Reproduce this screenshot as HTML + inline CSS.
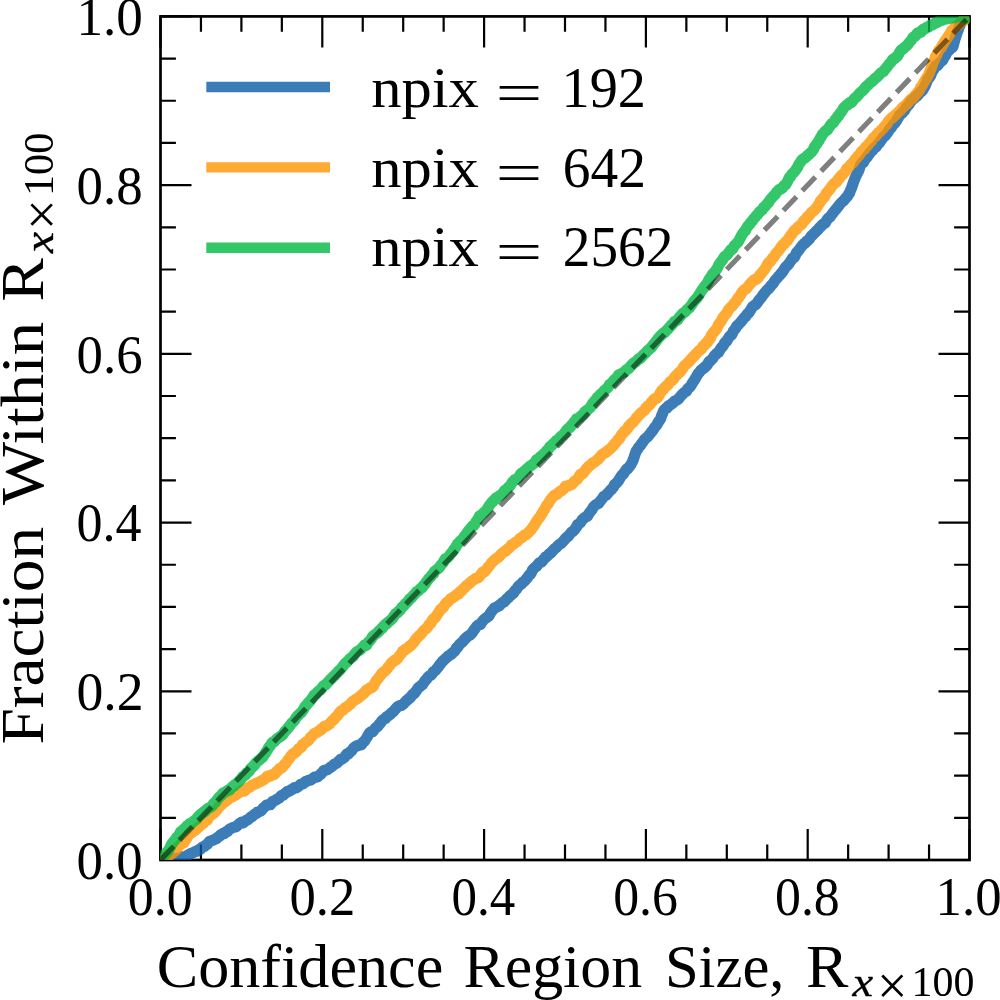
<!DOCTYPE html>
<html lang="en">
<head>
<meta charset="utf-8">
<title>Fraction Within vs Confidence Region Size</title>
<style>
html,body{margin:0;padding:0;background:#fff;}
body{width:1000px;height:1000px;overflow:hidden;}
svg{display:block;}
text{font-family:"Liberation Serif",serif;fill:#000;}
</style>
</head>
<body>
<svg width="1000" height="1000" viewBox="0 0 1000 1000">
<rect width="1000" height="1000" fill="#fff"/>
<defs><clipPath id="ax"><rect x="160.5" y="16.4" width="809.0" height="843.6"/></clipPath></defs>
<path d="M160.50 860.0 v-31.0 M160.50 16.4 v31.0 M160.5 860.00 h31.0 M969.5 860.00 h-31.0 M200.95 860.0 v-15.4 M200.95 16.4 v15.4 M160.5 817.82 h15.4 M969.5 817.82 h-15.4 M241.40 860.0 v-15.4 M241.40 16.4 v15.4 M160.5 775.64 h15.4 M969.5 775.64 h-15.4 M281.85 860.0 v-15.4 M281.85 16.4 v15.4 M160.5 733.46 h15.4 M969.5 733.46 h-15.4 M322.30 860.0 v-31.0 M322.30 16.4 v31.0 M160.5 691.28 h31.0 M969.5 691.28 h-31.0 M362.75 860.0 v-15.4 M362.75 16.4 v15.4 M160.5 649.10 h15.4 M969.5 649.10 h-15.4 M403.20 860.0 v-15.4 M403.20 16.4 v15.4 M160.5 606.92 h15.4 M969.5 606.92 h-15.4 M443.65 860.0 v-15.4 M443.65 16.4 v15.4 M160.5 564.74 h15.4 M969.5 564.74 h-15.4 M484.10 860.0 v-31.0 M484.10 16.4 v31.0 M160.5 522.56 h31.0 M969.5 522.56 h-31.0 M524.55 860.0 v-15.4 M524.55 16.4 v15.4 M160.5 480.38 h15.4 M969.5 480.38 h-15.4 M565.00 860.0 v-15.4 M565.00 16.4 v15.4 M160.5 438.20 h15.4 M969.5 438.20 h-15.4 M605.45 860.0 v-15.4 M605.45 16.4 v15.4 M160.5 396.02 h15.4 M969.5 396.02 h-15.4 M645.90 860.0 v-31.0 M645.90 16.4 v31.0 M160.5 353.84 h31.0 M969.5 353.84 h-31.0 M686.35 860.0 v-15.4 M686.35 16.4 v15.4 M160.5 311.66 h15.4 M969.5 311.66 h-15.4 M726.80 860.0 v-15.4 M726.80 16.4 v15.4 M160.5 269.48 h15.4 M969.5 269.48 h-15.4 M767.25 860.0 v-15.4 M767.25 16.4 v15.4 M160.5 227.30 h15.4 M969.5 227.30 h-15.4 M807.70 860.0 v-31.0 M807.70 16.4 v31.0 M160.5 185.12 h31.0 M969.5 185.12 h-31.0 M848.15 860.0 v-15.4 M848.15 16.4 v15.4 M160.5 142.94 h15.4 M969.5 142.94 h-15.4 M888.60 860.0 v-15.4 M888.60 16.4 v15.4 M160.5 100.76 h15.4 M969.5 100.76 h-15.4 M929.05 860.0 v-15.4 M929.05 16.4 v15.4 M160.5 58.58 h15.4 M969.5 58.58 h-15.4 M969.50 860.0 v-31.0 M969.50 16.4 v31.0 M160.5 16.40 h31.0 M969.5 16.40 h-31.0" stroke="#000" stroke-width="2.2" fill="none"/>
<rect x="160.5" y="16.4" width="809.0" height="843.6" fill="none" stroke="#000" stroke-width="2.7"/>
<g clip-path="url(#ax)" fill="none" stroke-linejoin="round" stroke-linecap="butt">
<path d="M160.5 860.0 L161.5 860.0 L162.5 860.0 L163.5 858.8 L164.5 859.0 L165.5 859.0 L166.5 858.9 L167.5 859.3 L168.5 859.6 L169.5 859.3 L170.5 859.0 L171.5 859.0 L172.5 859.5 L173.5 859.9 L174.5 859.3 L175.5 858.5 L176.5 858.6 L177.5 859.1 L178.5 858.9 L179.5 858.1 L180.5 858.0 L181.5 857.2 L182.5 856.9 L183.5 857.1 L184.5 856.9 L185.5 856.4 L186.5 856.2 L187.5 855.3 L188.5 854.8 L189.5 854.2 L190.5 853.8 L191.5 853.3 L192.5 852.9 L193.5 852.4 L194.5 852.0 L195.5 851.5 L196.5 851.0 L197.5 851.2 L198.5 849.8 L199.5 849.9 L200.5 849.1 L201.5 847.9 L202.5 847.1 L203.5 846.5 L204.5 846.4 L205.5 845.3 L206.5 844.7 L207.5 844.1 L208.5 842.6 L209.5 841.3 L210.5 841.0 L211.5 840.6 L212.5 840.5 L213.5 840.0 L214.5 839.5 L215.5 838.8 L216.5 838.7 L217.5 837.6 L218.5 836.8 L219.5 836.3 L220.5 834.8 L221.5 834.8 L222.5 833.8 L223.5 833.1 L224.5 833.5 L225.5 832.4 L226.5 831.4 L227.5 831.5 L228.5 830.2 L229.5 829.2 L230.5 828.8 L231.5 828.2 L232.5 827.8 L233.5 827.2 L234.5 827.1 L235.5 826.9 L236.5 826.4 L237.5 825.3 L238.5 824.6 L239.5 823.3 L240.5 823.3 L241.5 822.1 L242.5 822.2 L243.5 822.7 L244.5 821.8 L245.5 820.9 L246.5 820.1 L247.5 820.0 L248.5 819.0 L249.5 818.4 L250.5 817.5 L251.5 816.5 L252.5 816.4 L253.5 815.1 L254.5 814.3 L255.5 813.7 L256.5 813.4 L257.5 812.0 L258.5 811.9 L259.5 811.4 L260.5 811.2 L261.5 810.5 L262.5 809.0 L263.5 807.7 L264.5 807.1 L265.5 806.1 L266.5 805.0 L267.5 804.9 L268.5 805.0 L269.5 804.2 L270.5 804.6 L271.5 803.1 L272.5 801.5 L273.5 801.3 L274.5 800.6 L275.5 800.3 L276.5 799.7 L277.5 798.9 L278.5 798.5 L279.5 797.8 L280.5 796.3 L281.5 795.6 L282.5 795.0 L283.5 795.2 L284.5 793.9 L285.5 793.2 L286.5 792.2 L287.5 791.4 L288.5 791.5 L289.5 791.0 L290.5 790.1 L291.5 789.6 L292.5 789.4 L293.5 788.4 L294.5 787.7 L295.5 787.9 L296.5 787.7 L297.5 787.1 L298.5 786.3 L299.5 785.7 L300.5 784.4 L301.5 784.3 L302.5 784.0 L303.5 783.6 L304.5 782.5 L305.5 781.6 L306.5 781.4 L307.5 781.0 L308.5 780.3 L309.5 780.0 L310.5 780.1 L311.5 779.4 L312.5 778.8 L313.5 778.0 L314.5 777.1 L315.5 777.2 L316.5 777.1 L317.5 777.0 L318.5 776.0 L319.5 775.2 L320.5 774.5 L321.5 773.2 L322.5 772.3 L323.5 770.9 L324.5 770.2 L325.5 770.1 L326.5 769.9 L327.5 769.6 L328.5 768.7 L329.5 768.1 L330.5 767.1 L331.5 766.8 L332.5 766.0 L333.5 765.0 L334.5 764.0 L335.5 763.7 L336.5 763.2 L337.5 762.6 L338.5 761.3 L339.5 760.7 L340.5 759.3 L341.5 759.3 L342.5 758.6 L343.5 758.0 L344.5 757.3 L345.5 755.8 L346.5 754.4 L347.5 753.7 L348.5 753.8 L349.5 752.5 L350.5 751.5 L351.5 750.9 L352.5 749.5 L353.5 748.0 L354.5 747.2 L355.5 746.6 L356.5 745.8 L357.5 746.0 L358.5 745.3 L359.5 744.9 L360.5 744.9 L361.5 744.7 L362.5 742.9 L363.5 741.6 L364.5 741.2 L365.5 739.5 L366.5 738.0 L367.5 736.3 L368.5 734.6 L369.5 733.0 L370.5 732.1 L371.5 731.9 L372.5 731.8 L373.5 730.9 L374.5 729.1 L375.5 728.2 L376.5 727.2 L377.5 726.5 L378.5 725.6 L379.5 723.8 L380.5 723.2 L381.5 721.3 L382.5 720.2 L383.5 719.5 L384.5 718.9 L385.5 718.8 L386.5 716.8 L387.5 716.2 L388.5 715.7 L389.5 714.7 L390.5 714.2 L391.5 712.8 L392.5 712.2 L393.5 711.6 L394.5 710.2 L395.5 709.0 L396.5 708.0 L397.5 706.8 L398.5 706.4 L399.5 705.6 L400.5 705.5 L401.5 705.4 L402.5 704.7 L403.5 703.9 L404.5 702.8 L405.5 701.7 L406.5 700.6 L407.5 700.1 L408.5 698.9 L409.5 698.3 L410.5 697.4 L411.5 695.9 L412.5 694.5 L413.5 693.9 L414.5 693.4 L415.5 691.8 L416.5 690.4 L417.5 688.9 L418.5 687.5 L419.5 687.0 L420.5 686.0 L421.5 685.2 L422.5 684.7 L423.5 683.0 L424.5 681.5 L425.5 680.2 L426.5 679.3 L427.5 677.8 L428.5 676.7 L429.5 675.9 L430.5 675.3 L431.5 674.6 L432.5 673.3 L433.5 671.5 L434.5 671.2 L435.5 670.5 L436.5 669.0 L437.5 667.9 L438.5 666.7 L439.5 664.9 L440.5 664.0 L441.5 662.6 L442.5 661.3 L443.5 660.6 L444.5 659.5 L445.5 658.7 L446.5 657.8 L447.5 656.8 L448.5 655.7 L449.5 655.6 L450.5 654.5 L451.5 654.3 L452.5 652.9 L453.5 652.2 L454.5 651.3 L455.5 650.0 L456.5 647.7 L457.5 647.5 L458.5 645.9 L459.5 644.5 L460.5 643.6 L461.5 642.7 L462.5 641.9 L463.5 640.8 L464.5 639.2 L465.5 638.7 L466.5 637.3 L467.5 636.5 L468.5 635.8 L469.5 635.5 L470.5 634.5 L471.5 633.5 L472.5 632.5 L473.5 630.6 L474.5 629.4 L475.5 628.0 L476.5 626.5 L477.5 625.7 L478.5 624.7 L479.5 624.6 L480.5 624.4 L481.5 622.4 L482.5 621.5 L483.5 620.0 L484.5 619.2 L485.5 618.3 L486.5 617.8 L487.5 616.9 L488.5 616.3 L489.5 615.1 L490.5 613.0 L491.5 611.5 L492.5 610.3 L493.5 609.2 L494.5 607.8 L495.5 607.8 L496.5 606.9 L497.5 606.7 L498.5 605.7 L499.5 605.7 L500.5 604.3 L501.5 603.8 L502.5 602.4 L503.5 601.9 L504.5 601.9 L505.5 600.3 L506.5 599.1 L507.5 598.4 L508.5 597.6 L509.5 596.1 L510.5 595.7 L511.5 594.6 L512.5 594.1 L513.5 593.1 L514.5 591.3 L515.5 589.9 L516.5 589.4 L517.5 587.6 L518.5 586.2 L519.5 585.3 L520.5 584.7 L521.5 584.0 L522.5 582.2 L523.5 582.1 L524.5 581.0 L525.5 579.9 L526.5 578.8 L527.5 577.6 L528.5 576.0 L529.5 574.7 L530.5 574.2 L531.5 572.3 L532.5 569.8 L533.5 568.9 L534.5 567.8 L535.5 566.9 L536.5 566.5 L537.5 564.9 L538.5 563.8 L539.5 562.8 L540.5 562.4 L541.5 562.1 L542.5 560.9 L543.5 559.5 L544.5 558.5 L545.5 556.9 L546.5 556.7 L547.5 555.7 L548.5 554.7 L549.5 553.5 L550.5 553.3 L551.5 552.3 L552.5 550.9 L553.5 550.0 L554.5 548.8 L555.5 548.0 L556.5 547.4 L557.5 546.1 L558.5 545.2 L559.5 544.3 L560.5 543.8 L561.5 543.1 L562.5 542.1 L563.5 540.8 L564.5 539.9 L565.5 538.4 L566.5 537.7 L567.5 536.7 L568.5 536.0 L569.5 534.7 L570.5 533.4 L571.5 532.1 L572.5 531.8 L573.5 530.8 L574.5 529.8 L575.5 528.1 L576.5 527.2 L577.5 524.6 L578.5 524.4 L579.5 523.4 L580.5 522.5 L581.5 520.9 L582.5 519.4 L583.5 518.8 L584.5 517.7 L585.5 517.0 L586.5 516.7 L587.5 516.1 L588.5 514.2 L589.5 512.8 L590.5 511.4 L591.5 510.3 L592.5 508.6 L593.5 506.9 L594.5 505.9 L595.5 504.9 L596.5 504.5 L597.5 503.7 L598.5 503.7 L599.5 502.2 L600.5 500.6 L601.5 499.6 L602.5 498.3 L603.5 496.7 L604.5 496.0 L605.5 495.4 L606.5 494.9 L607.5 493.6 L608.5 492.4 L609.5 491.4 L610.5 490.2 L611.5 489.5 L612.5 488.1 L613.5 487.1 L614.5 484.8 L615.5 483.8 L616.5 483.2 L617.5 481.8 L618.5 481.0 L619.5 478.8 L620.5 477.4 L621.5 475.6 L622.5 474.7 L623.5 473.9 L624.5 472.2 L625.5 470.7 L626.5 469.1 L627.5 469.0 L628.5 467.7 L629.5 466.5 L630.5 465.2 L631.5 463.5 L632.5 461.6 L633.5 459.1 L634.5 455.9 L635.5 452.9 L636.5 450.5 L637.5 449.3 L638.5 447.6 L639.5 446.5 L640.5 445.3 L641.5 443.6 L642.5 442.6 L643.5 441.0 L644.5 439.5 L645.5 438.6 L646.5 437.6 L647.5 437.0 L648.5 435.8 L649.5 434.4 L650.5 433.3 L651.5 431.8 L652.5 430.8 L653.5 429.3 L654.5 427.7 L655.5 426.4 L656.5 425.4 L657.5 423.4 L658.5 421.9 L659.5 420.4 L660.5 418.9 L661.5 415.9 L662.5 413.7 L663.5 411.0 L664.5 409.6 L665.5 408.8 L666.5 407.6 L667.5 407.6 L668.5 405.9 L669.5 405.3 L670.5 404.8 L671.5 404.2 L672.5 402.9 L673.5 402.7 L674.5 401.0 L675.5 400.8 L676.5 400.2 L677.5 399.8 L678.5 398.9 L679.5 397.5 L680.5 396.4 L681.5 395.1 L682.5 394.4 L683.5 393.2 L684.5 392.4 L685.5 391.6 L686.5 391.3 L687.5 389.2 L688.5 388.0 L689.5 387.3 L690.5 386.4 L691.5 384.6 L692.5 382.9 L693.5 381.4 L694.5 379.9 L695.5 378.2 L696.5 376.5 L697.5 374.6 L698.5 373.1 L699.5 372.4 L700.5 370.6 L701.5 369.7 L702.5 369.3 L703.5 368.0 L704.5 367.8 L705.5 366.3 L706.5 365.8 L707.5 364.4 L708.5 362.4 L709.5 361.2 L710.5 360.9 L711.5 359.6 L712.5 358.7 L713.5 357.1 L714.5 355.6 L715.5 354.8 L716.5 353.6 L717.5 352.8 L718.5 352.4 L719.5 350.7 L720.5 349.0 L721.5 347.4 L722.5 346.9 L723.5 345.1 L724.5 343.2 L725.5 341.9 L726.5 341.4 L727.5 339.7 L728.5 338.0 L729.5 336.6 L730.5 335.5 L731.5 335.2 L732.5 333.1 L733.5 330.9 L734.5 329.6 L735.5 328.6 L736.5 326.5 L737.5 325.2 L738.5 324.7 L739.5 323.4 L740.5 322.4 L741.5 321.0 L742.5 319.9 L743.5 318.7 L744.5 317.4 L745.5 316.7 L746.5 315.1 L747.5 313.9 L748.5 313.3 L749.5 311.7 L750.5 310.2 L751.5 308.5 L752.5 306.7 L753.5 306.3 L754.5 305.2 L755.5 304.8 L756.5 303.8 L757.5 302.4 L758.5 300.9 L759.5 299.7 L760.5 298.3 L761.5 297.4 L762.5 295.6 L763.5 294.4 L764.5 293.2 L765.5 291.9 L766.5 290.6 L767.5 289.7 L768.5 288.8 L769.5 287.6 L770.5 286.4 L771.5 285.0 L772.5 284.2 L773.5 283.0 L774.5 281.1 L775.5 279.8 L776.5 278.9 L777.5 277.9 L778.5 276.3 L779.5 275.4 L780.5 274.3 L781.5 273.0 L782.5 272.1 L783.5 270.3 L784.5 268.9 L785.5 267.2 L786.5 266.2 L787.5 265.3 L788.5 264.1 L789.5 262.9 L790.5 261.1 L791.5 260.1 L792.5 258.1 L793.5 257.8 L794.5 257.1 L795.5 255.0 L796.5 252.5 L797.5 252.0 L798.5 250.3 L799.5 249.4 L800.5 247.6 L801.5 246.6 L802.5 245.2 L803.5 244.4 L804.5 243.2 L805.5 242.8 L806.5 241.3 L807.5 240.9 L808.5 239.8 L809.5 238.9 L810.5 237.2 L811.5 235.6 L812.5 235.3 L813.5 233.9 L814.5 233.0 L815.5 232.1 L816.5 230.9 L817.5 230.3 L818.5 228.9 L819.5 227.6 L820.5 227.1 L821.5 225.6 L822.5 224.7 L823.5 223.9 L824.5 223.5 L825.5 222.6 L826.5 220.6 L827.5 219.2 L828.5 217.9 L829.5 217.5 L830.5 216.4 L831.5 214.8 L832.5 213.7 L833.5 212.2 L834.5 211.1 L835.5 209.7 L836.5 208.7 L837.5 207.3 L838.5 206.2 L839.5 204.6 L840.5 203.6 L841.5 202.5 L842.5 201.7 L843.5 200.8 L844.5 199.6 L845.5 198.4 L846.5 197.2 L847.5 196.4 L848.5 194.2 L849.5 193.3 L850.5 190.2 L851.5 188.1 L852.5 185.2 L853.5 182.2 L854.5 179.4 L855.5 177.1 L856.5 174.9 L857.5 172.8 L858.5 171.1 L859.5 168.4 L860.5 165.2 L861.5 163.5 L862.5 162.2 L863.5 162.3 L864.5 160.4 L865.5 158.8 L866.5 157.8 L867.5 156.7 L868.5 154.8 L869.5 154.0 L870.5 152.1 L871.5 151.0 L872.5 150.6 L873.5 148.8 L874.5 147.6 L875.5 147.4 L876.5 146.3 L877.5 144.8 L878.5 143.5 L879.5 142.9 L880.5 141.1 L881.5 139.9 L882.5 138.3 L883.5 136.8 L884.5 136.5 L885.5 135.3 L886.5 133.9 L887.5 132.8 L888.5 131.2 L889.5 129.3 L890.5 128.5 L891.5 127.4 L892.5 125.5 L893.5 124.3 L894.5 123.5 L895.5 122.2 L896.5 120.9 L897.5 118.8 L898.5 117.4 L899.5 115.3 L900.5 114.7 L901.5 113.4 L902.5 112.9 L903.5 111.4 L904.5 110.6 L905.5 108.7 L906.5 107.2 L907.5 106.1 L908.5 105.0 L909.5 103.6 L910.5 101.4 L911.5 100.7 L912.5 99.7 L913.5 98.9 L914.5 98.2 L915.5 96.8 L916.5 95.8 L917.5 95.9 L918.5 94.3 L919.5 93.2 L920.5 91.8 L921.5 91.5 L922.5 90.4 L923.5 88.7 L924.5 87.1 L925.5 85.0 L926.5 82.4 L927.5 79.9 L928.5 78.7 L929.5 77.4 L930.5 75.9 L931.5 73.3 L932.5 71.2 L933.5 69.9 L934.5 67.7 L935.5 66.1 L936.5 65.6 L937.5 65.7 L938.5 64.4 L939.5 62.9 L940.5 62.1 L941.5 61.2 L942.5 60.4 L943.5 58.4 L944.5 56.8 L945.5 55.3 L946.5 53.4 L947.5 51.5 L948.5 50.6 L949.5 49.8 L950.5 48.3 L951.5 48.0 L952.5 47.4 L953.5 45.0 L954.5 41.0 L955.5 37.4 L956.5 34.5 L957.5 31.6 L958.5 29.1 L959.5 26.1 L960.5 24.2 L961.5 22.2 L962.5 20.4 L963.5 19.5 L964.5 17.9 L965.5 18.0 L966.5 17.3 L967.5 16.4 L968.5 16.4 L969.5 16.4" stroke="#0C5DA5" stroke-opacity="0.8" stroke-width="11.2"/>
<path d="M160.5 860.0 L161.5 859.2 L162.5 858.9 L163.5 857.7 L164.5 857.6 L165.5 856.5 L166.5 856.0 L167.5 855.6 L168.5 854.7 L169.5 855.4 L170.5 854.2 L171.5 853.6 L172.5 853.2 L173.5 851.7 L174.5 851.5 L175.5 850.4 L176.5 849.6 L177.5 848.0 L178.5 846.2 L179.5 845.6 L180.5 844.6 L181.5 843.6 L182.5 843.3 L183.5 842.9 L184.5 841.7 L185.5 839.9 L186.5 838.4 L187.5 836.9 L188.5 835.2 L189.5 834.2 L190.5 833.4 L191.5 832.7 L192.5 832.2 L193.5 831.4 L194.5 830.7 L195.5 830.1 L196.5 829.0 L197.5 828.0 L198.5 827.4 L199.5 826.5 L200.5 825.3 L201.5 824.3 L202.5 823.9 L203.5 823.1 L204.5 821.9 L205.5 820.6 L206.5 819.5 L207.5 819.7 L208.5 817.1 L209.5 816.4 L210.5 815.6 L211.5 815.0 L212.5 813.5 L213.5 813.4 L214.5 812.7 L215.5 811.4 L216.5 810.3 L217.5 808.7 L218.5 807.6 L219.5 806.4 L220.5 805.7 L221.5 804.8 L222.5 803.7 L223.5 802.9 L224.5 802.1 L225.5 801.4 L226.5 800.1 L227.5 800.1 L228.5 799.0 L229.5 798.0 L230.5 797.4 L231.5 797.1 L232.5 797.0 L233.5 795.4 L234.5 795.4 L235.5 795.4 L236.5 794.4 L237.5 793.5 L238.5 793.0 L239.5 792.5 L240.5 791.7 L241.5 790.7 L242.5 790.4 L243.5 790.3 L244.5 790.9 L245.5 790.0 L246.5 788.5 L247.5 788.2 L248.5 787.5 L249.5 787.3 L250.5 786.7 L251.5 785.6 L252.5 784.8 L253.5 784.8 L254.5 784.4 L255.5 783.5 L256.5 783.6 L257.5 782.7 L258.5 782.3 L259.5 782.2 L260.5 781.4 L261.5 780.6 L262.5 780.5 L263.5 779.8 L264.5 779.1 L265.5 778.2 L266.5 777.0 L267.5 776.0 L268.5 776.9 L269.5 775.9 L270.5 776.0 L271.5 774.9 L272.5 774.8 L273.5 774.7 L274.5 774.2 L275.5 773.1 L276.5 771.6 L277.5 771.3 L278.5 769.9 L279.5 768.5 L280.5 768.4 L281.5 768.0 L282.5 767.0 L283.5 765.8 L284.5 764.4 L285.5 763.6 L286.5 762.4 L287.5 760.6 L288.5 759.3 L289.5 758.4 L290.5 756.6 L291.5 755.1 L292.5 754.1 L293.5 753.9 L294.5 753.0 L295.5 752.0 L296.5 751.9 L297.5 750.3 L298.5 748.9 L299.5 748.3 L300.5 747.8 L301.5 747.0 L302.5 744.7 L303.5 744.0 L304.5 743.4 L305.5 742.4 L306.5 741.7 L307.5 741.4 L308.5 740.4 L309.5 739.0 L310.5 737.2 L311.5 736.6 L312.5 735.6 L313.5 734.6 L314.5 733.4 L315.5 732.9 L316.5 732.6 L317.5 732.2 L318.5 731.0 L319.5 730.7 L320.5 730.4 L321.5 728.7 L322.5 728.5 L323.5 727.1 L324.5 726.1 L325.5 726.2 L326.5 726.1 L327.5 725.3 L328.5 724.4 L329.5 724.2 L330.5 722.5 L331.5 721.7 L332.5 720.5 L333.5 719.9 L334.5 718.8 L335.5 717.3 L336.5 716.6 L337.5 715.6 L338.5 714.1 L339.5 712.7 L340.5 711.4 L341.5 710.7 L342.5 710.3 L343.5 709.6 L344.5 708.3 L345.5 707.4 L346.5 706.9 L347.5 706.7 L348.5 705.5 L349.5 705.0 L350.5 704.2 L351.5 702.7 L352.5 701.6 L353.5 700.9 L354.5 700.3 L355.5 699.6 L356.5 698.9 L357.5 698.7 L358.5 697.8 L359.5 696.6 L360.5 696.2 L361.5 695.0 L362.5 694.5 L363.5 693.2 L364.5 692.9 L365.5 691.4 L366.5 689.9 L367.5 689.4 L368.5 689.3 L369.5 688.1 L370.5 687.9 L371.5 687.7 L372.5 687.1 L373.5 686.0 L374.5 683.9 L375.5 682.0 L376.5 680.4 L377.5 679.4 L378.5 678.1 L379.5 676.6 L380.5 675.6 L381.5 673.8 L382.5 673.1 L383.5 671.8 L384.5 671.5 L385.5 670.7 L386.5 669.4 L387.5 668.2 L388.5 666.5 L389.5 665.7 L390.5 664.1 L391.5 662.9 L392.5 662.2 L393.5 661.2 L394.5 660.2 L395.5 660.3 L396.5 659.4 L397.5 658.7 L398.5 657.4 L399.5 655.6 L400.5 654.7 L401.5 653.4 L402.5 651.2 L403.5 650.8 L404.5 650.3 L405.5 649.0 L406.5 648.9 L407.5 648.2 L408.5 647.3 L409.5 646.1 L410.5 645.9 L411.5 644.8 L412.5 643.7 L413.5 642.6 L414.5 641.4 L415.5 639.7 L416.5 638.5 L417.5 637.2 L418.5 636.7 L419.5 635.2 L420.5 634.7 L421.5 633.4 L422.5 632.0 L423.5 630.9 L424.5 629.9 L425.5 629.0 L426.5 628.3 L427.5 627.4 L428.5 625.5 L429.5 623.9 L430.5 623.5 L431.5 622.2 L432.5 619.8 L433.5 618.7 L434.5 618.3 L435.5 617.4 L436.5 615.8 L437.5 614.2 L438.5 612.8 L439.5 611.0 L440.5 609.3 L441.5 609.0 L442.5 607.7 L443.5 607.1 L444.5 605.2 L445.5 603.9 L446.5 602.7 L447.5 602.2 L448.5 601.1 L449.5 600.1 L450.5 598.9 L451.5 598.3 L452.5 598.0 L453.5 597.0 L454.5 596.6 L455.5 595.8 L456.5 594.8 L457.5 594.3 L458.5 594.2 L459.5 592.2 L460.5 591.5 L461.5 591.1 L462.5 589.7 L463.5 588.7 L464.5 587.9 L465.5 586.8 L466.5 585.6 L467.5 585.0 L468.5 584.2 L469.5 583.0 L470.5 582.4 L471.5 581.3 L472.5 580.6 L473.5 580.0 L474.5 579.4 L475.5 578.4 L476.5 578.4 L477.5 578.0 L478.5 577.7 L479.5 576.4 L480.5 575.2 L481.5 573.6 L482.5 572.2 L483.5 571.8 L484.5 571.8 L485.5 570.6 L486.5 569.5 L487.5 568.1 L488.5 566.6 L489.5 565.7 L490.5 564.4 L491.5 562.8 L492.5 562.0 L493.5 560.9 L494.5 560.0 L495.5 559.1 L496.5 558.5 L497.5 557.8 L498.5 557.2 L499.5 556.1 L500.5 554.9 L501.5 554.0 L502.5 553.0 L503.5 552.2 L504.5 551.3 L505.5 551.3 L506.5 550.1 L507.5 549.2 L508.5 548.2 L509.5 547.7 L510.5 546.4 L511.5 544.9 L512.5 544.7 L513.5 544.2 L514.5 543.4 L515.5 542.2 L516.5 542.0 L517.5 541.3 L518.5 540.2 L519.5 539.1 L520.5 538.0 L521.5 538.0 L522.5 537.2 L523.5 536.0 L524.5 535.1 L525.5 534.9 L526.5 534.6 L527.5 533.5 L528.5 532.3 L529.5 531.3 L530.5 530.5 L531.5 529.1 L532.5 527.6 L533.5 526.4 L534.5 524.9 L535.5 523.2 L536.5 521.4 L537.5 519.9 L538.5 518.5 L539.5 517.5 L540.5 516.2 L541.5 514.1 L542.5 513.0 L543.5 510.8 L544.5 509.6 L545.5 507.4 L546.5 505.6 L547.5 504.5 L548.5 503.3 L549.5 501.3 L550.5 500.0 L551.5 498.4 L552.5 497.3 L553.5 496.5 L554.5 495.1 L555.5 495.0 L556.5 494.4 L557.5 493.9 L558.5 492.7 L559.5 491.8 L560.5 491.1 L561.5 490.7 L562.5 490.1 L563.5 489.0 L564.5 487.7 L565.5 486.2 L566.5 486.4 L567.5 486.1 L568.5 485.9 L569.5 484.9 L570.5 485.1 L571.5 484.5 L572.5 483.8 L573.5 482.7 L574.5 481.2 L575.5 480.7 L576.5 479.9 L577.5 479.0 L578.5 477.5 L579.5 475.7 L580.5 474.3 L581.5 473.8 L582.5 473.9 L583.5 472.7 L584.5 471.6 L585.5 469.9 L586.5 468.5 L587.5 467.8 L588.5 466.5 L589.5 465.6 L590.5 465.4 L591.5 464.4 L592.5 462.9 L593.5 462.8 L594.5 462.2 L595.5 461.4 L596.5 460.6 L597.5 459.6 L598.5 459.1 L599.5 457.5 L600.5 456.6 L601.5 455.1 L602.5 454.2 L603.5 453.7 L604.5 452.8 L605.5 452.8 L606.5 451.9 L607.5 450.8 L608.5 450.1 L609.5 449.3 L610.5 448.5 L611.5 447.5 L612.5 446.3 L613.5 445.7 L614.5 443.8 L615.5 443.1 L616.5 441.7 L617.5 440.6 L618.5 439.0 L619.5 438.6 L620.5 436.5 L621.5 434.8 L622.5 433.6 L623.5 432.9 L624.5 431.2 L625.5 430.5 L626.5 430.0 L627.5 428.5 L628.5 426.2 L629.5 425.6 L630.5 424.4 L631.5 423.2 L632.5 422.6 L633.5 421.8 L634.5 420.4 L635.5 419.3 L636.5 417.7 L637.5 416.8 L638.5 415.6 L639.5 414.7 L640.5 413.4 L641.5 412.6 L642.5 411.8 L643.5 411.2 L644.5 410.4 L645.5 408.4 L646.5 407.8 L647.5 406.3 L648.5 405.9 L649.5 405.0 L650.5 403.8 L651.5 402.0 L652.5 401.5 L653.5 399.7 L654.5 398.9 L655.5 398.3 L656.5 398.5 L657.5 397.7 L658.5 396.3 L659.5 394.4 L660.5 392.7 L661.5 390.8 L662.5 390.4 L663.5 389.4 L664.5 387.7 L665.5 386.9 L666.5 385.8 L667.5 385.2 L668.5 384.2 L669.5 382.5 L670.5 381.5 L671.5 381.0 L672.5 380.0 L673.5 379.1 L674.5 377.4 L675.5 376.1 L676.5 375.1 L677.5 374.5 L678.5 373.2 L679.5 372.0 L680.5 371.9 L681.5 370.1 L682.5 368.8 L683.5 367.0 L684.5 365.7 L685.5 364.8 L686.5 364.0 L687.5 362.9 L688.5 362.3 L689.5 361.0 L690.5 360.1 L691.5 358.5 L692.5 357.9 L693.5 356.4 L694.5 356.0 L695.5 354.3 L696.5 353.3 L697.5 352.4 L698.5 351.4 L699.5 350.2 L700.5 349.8 L701.5 348.9 L702.5 347.2 L703.5 345.7 L704.5 345.2 L705.5 343.6 L706.5 343.4 L707.5 342.1 L708.5 340.0 L709.5 339.3 L710.5 337.8 L711.5 334.9 L712.5 333.9 L713.5 332.3 L714.5 331.3 L715.5 330.3 L716.5 328.9 L717.5 327.0 L718.5 324.5 L719.5 323.4 L720.5 321.9 L721.5 320.6 L722.5 318.6 L723.5 316.9 L724.5 315.7 L725.5 314.4 L726.5 313.3 L727.5 311.6 L728.5 309.6 L729.5 308.6 L730.5 307.3 L731.5 306.5 L732.5 305.8 L733.5 304.4 L734.5 302.8 L735.5 302.0 L736.5 300.8 L737.5 298.7 L738.5 297.9 L739.5 296.4 L740.5 294.9 L741.5 293.0 L742.5 291.6 L743.5 290.7 L744.5 289.7 L745.5 289.3 L746.5 288.7 L747.5 287.2 L748.5 286.0 L749.5 284.7 L750.5 283.5 L751.5 282.5 L752.5 281.5 L753.5 280.4 L754.5 279.7 L755.5 279.3 L756.5 279.3 L757.5 278.3 L758.5 277.5 L759.5 275.3 L760.5 274.4 L761.5 273.3 L762.5 271.9 L763.5 270.8 L764.5 269.3 L765.5 267.8 L766.5 266.1 L767.5 264.6 L768.5 262.7 L769.5 262.3 L770.5 261.4 L771.5 259.8 L772.5 258.2 L773.5 257.3 L774.5 256.0 L775.5 254.2 L776.5 252.9 L777.5 251.8 L778.5 250.7 L779.5 249.6 L780.5 247.7 L781.5 246.7 L782.5 245.0 L783.5 244.5 L784.5 243.7 L785.5 241.9 L786.5 241.4 L787.5 240.5 L788.5 238.6 L789.5 237.4 L790.5 235.6 L791.5 234.5 L792.5 233.4 L793.5 231.6 L794.5 230.3 L795.5 229.9 L796.5 229.3 L797.5 227.6 L798.5 226.7 L799.5 226.0 L800.5 225.0 L801.5 224.6 L802.5 223.2 L803.5 221.0 L804.5 220.8 L805.5 219.3 L806.5 218.4 L807.5 216.7 L808.5 216.3 L809.5 214.9 L810.5 213.8 L811.5 212.3 L812.5 211.6 L813.5 211.1 L814.5 210.0 L815.5 209.1 L816.5 207.7 L817.5 206.4 L818.5 204.5 L819.5 203.2 L820.5 200.9 L821.5 200.1 L822.5 198.9 L823.5 197.6 L824.5 197.0 L825.5 194.8 L826.5 193.0 L827.5 192.1 L828.5 190.6 L829.5 189.7 L830.5 188.3 L831.5 186.5 L832.5 185.5 L833.5 184.3 L834.5 183.3 L835.5 182.4 L836.5 182.1 L837.5 180.4 L838.5 178.9 L839.5 178.3 L840.5 176.6 L841.5 175.4 L842.5 174.7 L843.5 173.6 L844.5 172.6 L845.5 171.3 L846.5 169.1 L847.5 168.2 L848.5 167.3 L849.5 166.2 L850.5 164.9 L851.5 163.9 L852.5 163.3 L853.5 162.0 L854.5 160.7 L855.5 159.2 L856.5 158.4 L857.5 156.7 L858.5 155.4 L859.5 155.0 L860.5 153.0 L861.5 151.5 L862.5 150.9 L863.5 149.8 L864.5 149.3 L865.5 147.7 L866.5 146.2 L867.5 145.7 L868.5 144.1 L869.5 143.1 L870.5 141.8 L871.5 141.1 L872.5 139.2 L873.5 137.9 L874.5 137.0 L875.5 136.3 L876.5 135.0 L877.5 134.1 L878.5 132.4 L879.5 132.0 L880.5 130.9 L881.5 129.8 L882.5 129.2 L883.5 127.9 L884.5 126.5 L885.5 125.4 L886.5 124.8 L887.5 123.0 L888.5 121.0 L889.5 120.2 L890.5 119.0 L891.5 117.9 L892.5 117.8 L893.5 116.6 L894.5 115.5 L895.5 115.2 L896.5 113.8 L897.5 112.9 L898.5 111.9 L899.5 111.0 L900.5 110.2 L901.5 108.6 L902.5 107.6 L903.5 106.8 L904.5 105.6 L905.5 105.2 L906.5 104.4 L907.5 103.2 L908.5 101.9 L909.5 101.1 L910.5 99.7 L911.5 99.0 L912.5 98.6 L913.5 97.4 L914.5 96.1 L915.5 94.8 L916.5 94.0 L917.5 92.5 L918.5 91.6 L919.5 90.2 L920.5 87.5 L921.5 86.5 L922.5 85.1 L923.5 83.1 L924.5 81.4 L925.5 79.6 L926.5 78.5 L927.5 76.4 L928.5 74.6 L929.5 72.6 L930.5 69.9 L931.5 67.4 L932.5 64.8 L933.5 61.7 L934.5 60.1 L935.5 56.4 L936.5 55.4 L937.5 53.1 L938.5 51.0 L939.5 49.6 L940.5 48.3 L941.5 47.3 L942.5 44.8 L943.5 44.1 L944.5 41.8 L945.5 40.2 L946.5 39.2 L947.5 37.5 L948.5 35.8 L949.5 34.5 L950.5 32.9 L951.5 30.8 L952.5 29.8 L953.5 28.9 L954.5 27.7 L955.5 26.5 L956.5 26.0 L957.5 25.4 L958.5 24.9 L959.5 24.0 L960.5 22.1 L961.5 21.5 L962.5 20.9 L963.5 20.5 L964.5 20.3 L965.5 18.9 L966.5 17.0 L967.5 17.0 L968.5 16.9 L969.5 16.4" stroke="#FF9500" stroke-opacity="0.8" stroke-width="11.2"/>
<path d="M160.5 860.0 L161.5 858.9 L162.5 857.4 L163.5 856.0 L164.5 855.0 L165.5 853.6 L166.5 852.6 L167.5 851.4 L168.5 850.4 L169.5 848.4 L170.5 846.5 L171.5 844.4 L172.5 843.2 L173.5 841.6 L174.5 840.6 L175.5 839.2 L176.5 837.6 L177.5 837.0 L178.5 835.7 L179.5 834.0 L180.5 831.9 L181.5 831.1 L182.5 830.8 L183.5 829.5 L184.5 828.6 L185.5 828.0 L186.5 826.4 L187.5 825.5 L188.5 825.4 L189.5 823.8 L190.5 823.3 L191.5 823.4 L192.5 822.3 L193.5 821.3 L194.5 820.5 L195.5 819.9 L196.5 819.2 L197.5 817.5 L198.5 816.3 L199.5 815.4 L200.5 814.4 L201.5 814.0 L202.5 813.0 L203.5 811.9 L204.5 811.9 L205.5 810.9 L206.5 809.6 L207.5 808.9 L208.5 808.1 L209.5 807.7 L210.5 807.3 L211.5 806.4 L212.5 805.5 L213.5 803.7 L214.5 802.7 L215.5 802.2 L216.5 800.6 L217.5 799.3 L218.5 797.9 L219.5 796.8 L220.5 796.0 L221.5 795.2 L222.5 793.7 L223.5 792.8 L224.5 792.4 L225.5 792.2 L226.5 791.3 L227.5 790.4 L228.5 789.9 L229.5 790.1 L230.5 788.9 L231.5 787.7 L232.5 786.7 L233.5 786.3 L234.5 785.1 L235.5 784.6 L236.5 783.5 L237.5 783.0 L238.5 781.8 L239.5 780.6 L240.5 780.0 L241.5 778.3 L242.5 776.9 L243.5 776.3 L244.5 775.7 L245.5 775.0 L246.5 773.0 L247.5 772.5 L248.5 771.8 L249.5 770.8 L250.5 768.7 L251.5 767.7 L252.5 767.1 L253.5 765.9 L254.5 765.2 L255.5 763.4 L256.5 762.3 L257.5 761.5 L258.5 760.5 L259.5 759.9 L260.5 759.0 L261.5 758.2 L262.5 757.4 L263.5 755.9 L264.5 754.4 L265.5 753.1 L266.5 751.2 L267.5 750.0 L268.5 747.8 L269.5 746.5 L270.5 745.4 L271.5 743.4 L272.5 742.4 L273.5 742.1 L274.5 741.4 L275.5 740.3 L276.5 739.2 L277.5 738.5 L278.5 737.7 L279.5 737.3 L280.5 736.4 L281.5 735.8 L282.5 735.0 L283.5 733.6 L284.5 732.0 L285.5 730.7 L286.5 729.9 L287.5 728.4 L288.5 727.8 L289.5 726.0 L290.5 724.8 L291.5 723.3 L292.5 722.4 L293.5 721.5 L294.5 720.3 L295.5 718.7 L296.5 717.2 L297.5 715.8 L298.5 715.3 L299.5 713.9 L300.5 713.1 L301.5 712.4 L302.5 710.9 L303.5 709.5 L304.5 707.3 L305.5 706.0 L306.5 705.2 L307.5 703.7 L308.5 702.6 L309.5 701.7 L310.5 700.6 L311.5 699.1 L312.5 697.9 L313.5 696.2 L314.5 694.7 L315.5 694.6 L316.5 693.3 L317.5 692.0 L318.5 691.2 L319.5 690.4 L320.5 689.9 L321.5 688.6 L322.5 687.2 L323.5 685.8 L324.5 685.3 L325.5 684.9 L326.5 683.7 L327.5 682.6 L328.5 681.7 L329.5 680.4 L330.5 679.3 L331.5 678.9 L332.5 677.3 L333.5 676.4 L334.5 675.8 L335.5 674.2 L336.5 673.6 L337.5 672.5 L338.5 671.1 L339.5 670.4 L340.5 669.3 L341.5 668.2 L342.5 666.9 L343.5 665.5 L344.5 664.2 L345.5 663.1 L346.5 662.4 L347.5 661.3 L348.5 660.4 L349.5 659.2 L350.5 658.5 L351.5 657.4 L352.5 657.0 L353.5 656.2 L354.5 654.3 L355.5 653.3 L356.5 652.1 L357.5 651.6 L358.5 650.7 L359.5 650.2 L360.5 649.7 L361.5 648.5 L362.5 647.4 L363.5 646.5 L364.5 645.0 L365.5 645.8 L366.5 645.2 L367.5 643.6 L368.5 642.0 L369.5 641.1 L370.5 640.0 L371.5 638.3 L372.5 636.6 L373.5 635.8 L374.5 634.8 L375.5 634.2 L376.5 633.3 L377.5 633.0 L378.5 631.3 L379.5 630.8 L380.5 629.6 L381.5 628.3 L382.5 628.0 L383.5 626.2 L384.5 625.3 L385.5 624.3 L386.5 624.1 L387.5 622.6 L388.5 621.9 L389.5 621.2 L390.5 620.3 L391.5 619.4 L392.5 618.4 L393.5 616.7 L394.5 615.5 L395.5 613.6 L396.5 613.2 L397.5 612.7 L398.5 611.1 L399.5 610.8 L400.5 609.7 L401.5 608.0 L402.5 606.7 L403.5 606.1 L404.5 605.0 L405.5 603.6 L406.5 602.9 L407.5 601.9 L408.5 600.7 L409.5 599.1 L410.5 598.4 L411.5 597.9 L412.5 596.4 L413.5 595.3 L414.5 594.2 L415.5 593.3 L416.5 591.7 L417.5 591.5 L418.5 590.5 L419.5 589.8 L420.5 588.4 L421.5 588.3 L422.5 587.3 L423.5 585.3 L424.5 584.6 L425.5 583.4 L426.5 581.7 L427.5 580.5 L428.5 578.9 L429.5 578.0 L430.5 577.2 L431.5 575.3 L432.5 574.4 L433.5 573.8 L434.5 571.3 L435.5 570.7 L436.5 569.8 L437.5 569.0 L438.5 568.5 L439.5 567.3 L440.5 565.6 L441.5 564.6 L442.5 563.3 L443.5 562.3 L444.5 559.9 L445.5 558.5 L446.5 558.6 L447.5 557.6 L448.5 556.7 L449.5 555.5 L450.5 553.9 L451.5 552.9 L452.5 551.8 L453.5 550.2 L454.5 548.7 L455.5 547.6 L456.5 545.8 L457.5 543.9 L458.5 543.1 L459.5 542.2 L460.5 540.7 L461.5 540.1 L462.5 539.1 L463.5 537.9 L464.5 536.2 L465.5 535.2 L466.5 533.6 L467.5 532.2 L468.5 530.6 L469.5 529.8 L470.5 528.5 L471.5 527.2 L472.5 526.1 L473.5 525.9 L474.5 524.9 L475.5 522.7 L476.5 521.2 L477.5 519.8 L478.5 518.1 L479.5 516.1 L480.5 515.6 L481.5 514.8 L482.5 514.0 L483.5 512.9 L484.5 512.1 L485.5 511.1 L486.5 509.9 L487.5 508.6 L488.5 506.9 L489.5 505.2 L490.5 504.1 L491.5 502.7 L492.5 502.0 L493.5 500.6 L494.5 500.0 L495.5 498.4 L496.5 497.6 L497.5 497.3 L498.5 496.8 L499.5 495.6 L500.5 495.3 L501.5 494.4 L502.5 493.6 L503.5 492.6 L504.5 490.7 L505.5 490.0 L506.5 489.3 L507.5 488.7 L508.5 487.2 L509.5 486.5 L510.5 485.2 L511.5 483.6 L512.5 482.0 L513.5 481.1 L514.5 479.8 L515.5 479.6 L516.5 478.9 L517.5 478.5 L518.5 477.4 L519.5 476.0 L520.5 474.2 L521.5 473.2 L522.5 472.9 L523.5 472.6 L524.5 470.9 L525.5 470.1 L526.5 469.5 L527.5 468.2 L528.5 467.6 L529.5 466.5 L530.5 465.9 L531.5 465.3 L532.5 464.5 L533.5 463.7 L534.5 462.7 L535.5 462.1 L536.5 459.8 L537.5 459.2 L538.5 459.0 L539.5 457.6 L540.5 456.7 L541.5 456.3 L542.5 455.1 L543.5 454.0 L544.5 453.3 L545.5 452.7 L546.5 450.9 L547.5 449.9 L548.5 449.0 L549.5 447.2 L550.5 446.1 L551.5 445.7 L552.5 444.6 L553.5 443.4 L554.5 443.0 L555.5 441.6 L556.5 440.4 L557.5 439.9 L558.5 439.7 L559.5 438.0 L560.5 436.8 L561.5 435.9 L562.5 435.4 L563.5 434.5 L564.5 433.1 L565.5 432.4 L566.5 430.1 L567.5 429.1 L568.5 428.3 L569.5 427.8 L570.5 426.9 L571.5 425.0 L572.5 424.4 L573.5 423.0 L574.5 421.6 L575.5 421.0 L576.5 418.9 L577.5 418.9 L578.5 418.2 L579.5 417.6 L580.5 416.4 L581.5 415.6 L582.5 414.8 L583.5 413.9 L584.5 412.1 L585.5 411.3 L586.5 410.4 L587.5 409.9 L588.5 409.1 L589.5 408.2 L590.5 407.3 L591.5 405.5 L592.5 403.5 L593.5 402.5 L594.5 401.1 L595.5 400.3 L596.5 398.7 L597.5 397.4 L598.5 396.7 L599.5 395.7 L600.5 394.2 L601.5 393.6 L602.5 392.9 L603.5 391.6 L604.5 390.4 L605.5 389.7 L606.5 388.8 L607.5 387.8 L608.5 386.8 L609.5 384.6 L610.5 384.0 L611.5 383.3 L612.5 382.5 L613.5 380.7 L614.5 379.7 L615.5 378.9 L616.5 377.9 L617.5 377.1 L618.5 375.1 L619.5 374.6 L620.5 374.1 L621.5 373.5 L622.5 373.2 L623.5 372.4 L624.5 372.1 L625.5 370.6 L626.5 370.0 L627.5 369.0 L628.5 368.7 L629.5 367.6 L630.5 366.4 L631.5 365.1 L632.5 364.4 L633.5 363.1 L634.5 362.6 L635.5 362.0 L636.5 361.1 L637.5 360.2 L638.5 358.9 L639.5 358.9 L640.5 358.3 L641.5 356.7 L642.5 356.2 L643.5 354.7 L644.5 353.8 L645.5 353.1 L646.5 351.9 L647.5 350.6 L648.5 349.8 L649.5 349.1 L650.5 348.1 L651.5 347.3 L652.5 345.6 L653.5 344.6 L654.5 343.1 L655.5 342.1 L656.5 340.6 L657.5 339.3 L658.5 338.0 L659.5 336.9 L660.5 335.8 L661.5 334.8 L662.5 334.2 L663.5 332.8 L664.5 332.7 L665.5 331.6 L666.5 330.3 L667.5 329.5 L668.5 328.4 L669.5 327.2 L670.5 326.4 L671.5 324.8 L672.5 324.4 L673.5 322.8 L674.5 321.5 L675.5 321.1 L676.5 320.7 L677.5 320.0 L678.5 318.4 L679.5 317.2 L680.5 316.0 L681.5 314.8 L682.5 313.7 L683.5 312.9 L684.5 312.4 L685.5 311.6 L686.5 310.2 L687.5 309.3 L688.5 308.4 L689.5 307.7 L690.5 306.3 L691.5 304.9 L692.5 303.5 L693.5 301.8 L694.5 300.8 L695.5 299.4 L696.5 298.5 L697.5 297.3 L698.5 295.7 L699.5 294.2 L700.5 292.4 L701.5 290.9 L702.5 289.3 L703.5 288.3 L704.5 286.4 L705.5 285.4 L706.5 284.1 L707.5 282.7 L708.5 280.6 L709.5 278.7 L710.5 277.3 L711.5 276.0 L712.5 274.0 L713.5 273.4 L714.5 272.1 L715.5 270.7 L716.5 269.6 L717.5 267.8 L718.5 265.4 L719.5 263.9 L720.5 262.3 L721.5 261.2 L722.5 260.1 L723.5 258.1 L724.5 256.6 L725.5 255.9 L726.5 255.5 L727.5 254.3 L728.5 253.0 L729.5 251.6 L730.5 250.1 L731.5 249.9 L732.5 249.1 L733.5 247.2 L734.5 245.5 L735.5 244.6 L736.5 243.5 L737.5 242.5 L738.5 241.4 L739.5 239.5 L740.5 237.5 L741.5 235.5 L742.5 233.8 L743.5 232.7 L744.5 231.2 L745.5 230.7 L746.5 228.2 L747.5 226.4 L748.5 225.3 L749.5 224.6 L750.5 222.7 L751.5 221.7 L752.5 220.9 L753.5 218.8 L754.5 218.0 L755.5 216.9 L756.5 215.4 L757.5 214.7 L758.5 213.4 L759.5 211.8 L760.5 211.4 L761.5 210.1 L762.5 209.7 L763.5 207.6 L764.5 207.1 L765.5 205.8 L766.5 204.6 L767.5 203.3 L768.5 202.5 L769.5 200.7 L770.5 199.4 L771.5 198.1 L772.5 197.2 L773.5 196.0 L774.5 195.0 L775.5 194.1 L776.5 192.3 L777.5 191.2 L778.5 190.2 L779.5 189.4 L780.5 189.4 L781.5 188.5 L782.5 187.8 L783.5 186.2 L784.5 185.2 L785.5 184.8 L786.5 183.1 L787.5 181.5 L788.5 179.3 L789.5 177.3 L790.5 176.8 L791.5 174.8 L792.5 173.5 L793.5 172.7 L794.5 171.6 L795.5 170.3 L796.5 168.6 L797.5 167.5 L798.5 165.1 L799.5 163.3 L800.5 162.1 L801.5 160.4 L802.5 159.3 L803.5 158.5 L804.5 158.5 L805.5 157.3 L806.5 156.8 L807.5 155.3 L808.5 155.1 L809.5 153.8 L810.5 152.8 L811.5 152.2 L812.5 150.7 L813.5 149.4 L814.5 146.9 L815.5 145.4 L816.5 144.3 L817.5 142.7 L818.5 141.4 L819.5 139.4 L820.5 137.8 L821.5 136.1 L822.5 134.2 L823.5 133.5 L824.5 132.0 L825.5 130.9 L826.5 130.6 L827.5 129.8 L828.5 128.2 L829.5 126.8 L830.5 125.1 L831.5 123.8 L832.5 123.2 L833.5 122.7 L834.5 121.0 L835.5 119.2 L836.5 118.7 L837.5 116.6 L838.5 116.0 L839.5 113.9 L840.5 112.9 L841.5 111.7 L842.5 110.1 L843.5 108.2 L844.5 107.1 L845.5 106.1 L846.5 105.1 L847.5 105.2 L848.5 104.0 L849.5 102.7 L850.5 102.3 L851.5 102.6 L852.5 101.2 L853.5 99.9 L854.5 98.5 L855.5 97.6 L856.5 97.1 L857.5 95.8 L858.5 94.8 L859.5 93.4 L860.5 92.6 L861.5 91.5 L862.5 90.8 L863.5 89.7 L864.5 88.9 L865.5 87.2 L866.5 86.2 L867.5 85.3 L868.5 84.7 L869.5 83.5 L870.5 82.4 L871.5 82.0 L872.5 81.2 L873.5 80.0 L874.5 79.0 L875.5 78.1 L876.5 77.5 L877.5 76.6 L878.5 75.4 L879.5 74.7 L880.5 73.2 L881.5 72.6 L882.5 72.1 L883.5 71.6 L884.5 70.0 L885.5 68.7 L886.5 67.7 L887.5 66.3 L888.5 65.0 L889.5 63.5 L890.5 62.7 L891.5 61.6 L892.5 59.7 L893.5 58.8 L894.5 58.8 L895.5 57.9 L896.5 56.7 L897.5 56.2 L898.5 54.3 L899.5 52.4 L900.5 50.8 L901.5 49.7 L902.5 49.3 L903.5 48.6 L904.5 47.3 L905.5 46.8 L906.5 45.8 L907.5 44.9 L908.5 43.7 L909.5 42.1 L910.5 41.1 L911.5 39.9 L912.5 38.1 L913.5 37.0 L914.5 36.9 L915.5 35.9 L916.5 34.1 L917.5 33.2 L918.5 33.3 L919.5 32.2 L920.5 32.4 L921.5 31.8 L922.5 29.8 L923.5 29.0 L924.5 29.1 L925.5 28.6 L926.5 27.4 L927.5 27.1 L928.5 27.1 L929.5 25.8 L930.5 25.3 L931.5 24.9 L932.5 25.0 L933.5 24.2 L934.5 23.3 L935.5 23.1 L936.5 22.7 L937.5 22.1 L938.5 21.3 L939.5 21.2 L940.5 20.3 L941.5 20.6 L942.5 19.7 L943.5 19.5 L944.5 19.3 L945.5 19.0 L946.5 18.6 L947.5 18.8 L948.5 18.6 L949.5 17.8 L950.5 17.8 L951.5 18.0 L952.5 17.2 L953.5 17.8 L954.5 16.9 L955.5 17.2 L956.5 17.3 L957.5 16.7 L958.5 16.7 L959.5 16.4 L960.5 16.7 L961.5 16.5 L962.5 16.6 L963.5 16.9 L964.5 17.5 L965.5 17.1 L966.5 18.1 L967.5 17.1 L968.5 16.6 L969.5 16.4" stroke="#00B945" stroke-opacity="0.8" stroke-width="11.2"/>
<path d="M160.5 860.0 L969.5 16.4" stroke="#000" stroke-opacity="0.5" stroke-width="5.2" stroke-dasharray="19.04 8.23"/>
</g>
<path d="M206.3 87.0 H330" stroke="#0C5DA5" stroke-opacity="0.8" stroke-width="10.44" fill="none"/>
<path d="M206.3 167.4 H330" stroke="#FF9500" stroke-opacity="0.8" stroke-width="10.44" fill="none"/>
<path d="M206.3 247.8 H330" stroke="#00B945" stroke-opacity="0.8" stroke-width="10.44" fill="none"/>
<g>
<text transform="translate(127.78 914.70) scale(0.9594 1.0000)" font-size="54.0">0.0</text>
<text transform="translate(289.55 914.70) scale(0.9746 1.0000)" font-size="54.0">0.2</text>
<text transform="translate(451.41 914.70) scale(0.9446 1.0000)" font-size="54.0">0.4</text>
<text transform="translate(613.18 914.70) scale(0.9594 1.0000)" font-size="54.0">0.6</text>
<text transform="translate(774.98 914.70) scale(0.9594 1.0000)" font-size="54.0">0.8</text>
<text transform="translate(935.61 914.70) scale(0.9770 1.0000)" font-size="54.0">1.0</text>
<text transform="translate(76.54 878.90) scale(0.9781 1.0000)" font-size="54.0">0.0</text>
<text transform="translate(76.51 710.18) scale(0.9937 1.0000)" font-size="54.0">0.2</text>
<text transform="translate(76.57 541.46) scale(0.9631 1.0000)" font-size="54.0">0.4</text>
<text transform="translate(76.54 372.74) scale(0.9781 1.0000)" font-size="54.0">0.6</text>
<text transform="translate(76.54 204.02) scale(0.9781 1.0000)" font-size="54.0">0.8</text>
<text transform="translate(76.38 35.30) scale(0.9836 1.0000)" font-size="54.0">1.0</text>
<text transform="translate(371.13 107.00) scale(1.0727 1.0000)" font-size="56.5">npix</text>
<text transform="translate(495.58 112.19) scale(1.4731 1.0071)" font-size="56.5">=</text>
<text transform="translate(561.52 107.00) scale(0.9961 1.0000)" font-size="56.5">192</text>
<text transform="translate(371.13 186.60) scale(1.0727 1.0000)" font-size="56.5">npix</text>
<text transform="translate(495.58 191.79) scale(1.4731 1.0071)" font-size="56.5">=</text>
<text transform="translate(562.84 186.60) scale(0.9800 1.0000)" font-size="56.5">642</text>
<text transform="translate(371.13 266.20) scale(1.0727 1.0000)" font-size="56.5">npix</text>
<text transform="translate(495.58 271.39) scale(1.4731 1.0071)" font-size="56.5">=</text>
<text transform="translate(562.84 266.20) scale(0.9778 1.0000)" font-size="56.5">2562</text>
<text transform="translate(156.74 987.00) scale(1.0027 1.0000)" font-size="62.0">Confidence</text>
<text transform="translate(463.51 987.00) scale(0.9972 1.0000)" font-size="62.0">Region</text>
<text transform="translate(664.88 987.00) scale(0.9789 1.0000)" font-size="62.0">Size,</text>
<text transform="translate(805.95 987.00) scale(1.0256 1.0000)" font-size="62.0">R</text>
<text transform="translate(852.60 996.30) scale(1.0000 0.9286)" font-size="46.440000000000005" font-style="italic" stroke="#000" stroke-width="0.35">x</text>
<text transform="translate(876.96 1003.55) scale(1.2588 1.2588)" font-size="43.0">×</text>
<text transform="translate(911.60 996.00) scale(0.9746 1.0000)" font-size="43.0">100</text>
</g>
<g transform="translate(43.0 742.5) rotate(-90)">
<text transform="translate(-2.11 0.00) scale(1.0539 1.0000)" font-size="62.0">Fraction</text>
<text transform="translate(237.50 0.00) scale(1.0799 1.0000)" font-size="62.0">Within</text>
<text transform="translate(440.90 0.00) scale(1.0513 1.0000)" font-size="62.0">R</text>
<text transform="translate(489.33 10.10) scale(1.0333 0.9286)" font-size="46.440000000000005" font-style="italic" stroke="#000" stroke-width="0.35">x</text>
<text transform="translate(512.62 17.35) scale(1.2706 1.2588)" font-size="43.0">×</text>
<text transform="translate(546.59 9.80) scale(0.9780 1.0000)" font-size="43.0">100</text>
</g>
</svg>
</body>
</html>
